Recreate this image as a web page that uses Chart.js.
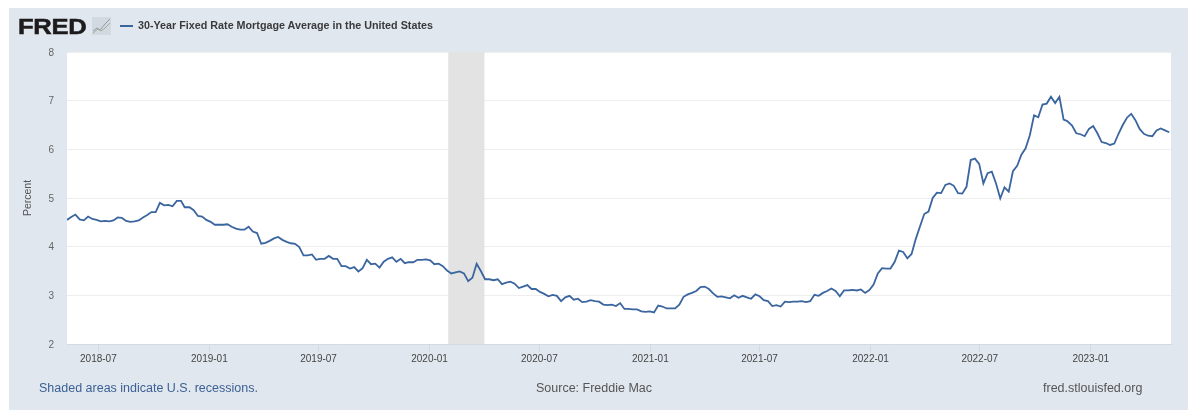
<!DOCTYPE html>
<html><head><meta charset="utf-8">
<script src="https://cdn.jsdelivr.net/npm/chart.js@4/dist/chart.umd.min.js"></script>
<style>
html,body{margin:0;padding:0;background:#fff;width:1200px;height:420px;overflow:hidden;font-family:"Liberation Sans",Arial,sans-serif}
#panel{position:absolute;left:9px;top:8px;width:1179px;height:402px;background:#e1e7ef}
#wrap{position:absolute;left:0;top:0;width:1200px;height:420px}
.t{position:absolute;white-space:nowrap;line-height:1}
#logo{left:18px;top:16px;font-size:22.5px;font-weight:bold;color:#1d1b1b;letter-spacing:-.3px;-webkit-text-stroke:.5px #1d1b1b;transform:scaleX(1.14);transform-origin:left top}
#icon{position:absolute;left:92px;top:17px;width:19px;height:18px}
#sample{position:absolute;left:120px;top:25px;width:13px;height:2px;background:#3a659f}
#title{left:138px;top:20px;font-size:10.75px;font-weight:bold;color:#3a3a3a}
#rec{left:39px;top:382px;font-size:12.5px;color:#3c6194}
#src{left:536px;top:382px;font-size:12.5px;color:#555}
#site{left:1043px;top:382px;font-size:12.5px;color:#555}
</style></head><body>
<div id="panel"></div>
<div id="wrap"><canvas id="c" width="1200" height="420"></canvas></div>
<div class="t" id="logo">FRED</div>
<svg id="icon" viewBox="0 0 19 18"><rect width="19" height="18" fill="#d3d9e1"/><polyline points="1,14 5,11 8,13 13,7 18,2" fill="none" stroke="#8f9aa8" stroke-width="1"/><polyline points="1,16 6,12 9,14 13,11 18,6" fill="none" stroke="#9db08f" stroke-width="1"/></svg>
<div id="sample"></div>
<div class="t" id="title">30-Year Fixed Rate Mortgage Average in the United States</div>
<div class="t" id="rec">Shaded areas indicate U.S. recessions.</div>
<div class="t" id="src">Source: Freddie Mac</div>
<div class="t" id="site">fred.stlouisfed.org</div>
<script>
const dates = [
"2018-05-10","2018-05-17","2018-05-24","2018-05-31","2018-06-07","2018-06-14","2018-06-21","2018-06-28","2018-07-05","2018-07-12","2018-07-19","2018-07-26","2018-08-02","2018-08-09","2018-08-16","2018-08-23","2018-08-30","2018-09-06","2018-09-13","2018-09-20","2018-09-27","2018-10-04","2018-10-11","2018-10-18","2018-10-25","2018-11-01","2018-11-08","2018-11-15","2018-11-21","2018-11-29","2018-12-06","2018-12-13","2018-12-20","2018-12-27",
"2019-01-03","2019-01-10","2019-01-17","2019-01-24","2019-01-31","2019-02-07","2019-02-14","2019-02-21","2019-02-28","2019-03-07","2019-03-14","2019-03-21","2019-03-28","2019-04-04","2019-04-11","2019-04-18","2019-04-25","2019-05-02","2019-05-09","2019-05-16","2019-05-23","2019-05-30","2019-06-06","2019-06-13","2019-06-20","2019-06-27","2019-07-03","2019-07-11","2019-07-18","2019-07-25","2019-08-01","2019-08-08","2019-08-15","2019-08-22","2019-08-29","2019-09-05","2019-09-12","2019-09-19","2019-09-26","2019-10-03","2019-10-10","2019-10-17","2019-10-24","2019-10-31","2019-11-07","2019-11-14","2019-11-21","2019-11-27","2019-12-05","2019-12-12","2019-12-19","2019-12-26",
"2020-01-02","2020-01-09","2020-01-16","2020-01-23","2020-01-30","2020-02-06","2020-02-13","2020-02-20","2020-02-27","2020-03-05","2020-03-12","2020-03-19","2020-03-26","2020-04-02","2020-04-09","2020-04-16","2020-04-23","2020-04-30","2020-05-07","2020-05-14","2020-05-21","2020-05-28","2020-06-04","2020-06-11","2020-06-18","2020-06-25","2020-07-02","2020-07-09","2020-07-16","2020-07-23","2020-07-30","2020-08-06","2020-08-13","2020-08-20","2020-08-27","2020-09-03","2020-09-10","2020-09-17","2020-09-24","2020-10-01","2020-10-08","2020-10-15","2020-10-22","2020-10-29","2020-11-05","2020-11-12","2020-11-19","2020-11-25","2020-12-03","2020-12-10","2020-12-17","2020-12-24","2020-12-31",
"2021-01-07","2021-01-14","2021-01-21","2021-01-28","2021-02-04","2021-02-11","2021-02-18","2021-02-25","2021-03-04","2021-03-11","2021-03-18","2021-03-25","2021-04-01","2021-04-08","2021-04-15","2021-04-22","2021-04-29","2021-05-06","2021-05-13","2021-05-20","2021-05-27","2021-06-03","2021-06-10","2021-06-17","2021-06-24","2021-07-01","2021-07-08","2021-07-15","2021-07-22","2021-07-29","2021-08-05","2021-08-12","2021-08-19","2021-08-26","2021-09-02","2021-09-09","2021-09-16","2021-09-23","2021-09-30","2021-10-07","2021-10-14","2021-10-21","2021-10-28","2021-11-04","2021-11-11","2021-11-18","2021-11-24","2021-12-02","2021-12-09","2021-12-16","2021-12-23","2021-12-30",
"2022-01-06","2022-01-13","2022-01-20","2022-01-27","2022-02-03","2022-02-10","2022-02-17","2022-02-24","2022-03-03","2022-03-10","2022-03-17","2022-03-24","2022-03-31","2022-04-07","2022-04-14","2022-04-21","2022-04-28","2022-05-05","2022-05-12","2022-05-19","2022-05-26","2022-06-02","2022-06-09","2022-06-16","2022-06-23","2022-06-30","2022-07-07","2022-07-14","2022-07-21","2022-07-28","2022-08-04","2022-08-11","2022-08-18","2022-08-25","2022-09-01","2022-09-08","2022-09-15","2022-09-22","2022-09-29","2022-10-06","2022-10-13","2022-10-20","2022-10-27","2022-11-03","2022-11-10","2022-11-17","2022-11-23","2022-12-01","2022-12-08","2022-12-15","2022-12-22","2022-12-29",
"2023-01-05","2023-01-12","2023-01-19","2023-01-26","2023-02-02","2023-02-09","2023-02-16","2023-02-23","2023-03-02","2023-03-09","2023-03-16","2023-03-23","2023-03-30","2023-04-06","2023-04-13","2023-04-20","2023-04-27","2023-05-04","2023-05-11"];
const rates = [
4.55,4.61,4.66,4.56,4.54,4.62,4.57,4.55,4.52,4.53,4.52,4.54,4.60,4.59,4.53,4.51,4.52,4.54,4.60,4.65,4.71,4.71,4.90,4.85,4.86,4.83,4.94,4.94,4.81,4.81,4.75,4.63,4.62,4.55,
4.51,4.45,4.45,4.45,4.46,4.41,4.37,4.35,4.35,4.41,4.31,4.28,4.06,4.08,4.12,4.17,4.20,4.14,4.10,4.07,4.06,3.99,3.82,3.82,3.84,3.73,3.75,3.75,3.81,3.75,3.75,3.60,3.60,3.55,3.58,3.49,3.56,3.73,3.64,3.65,3.57,3.69,3.75,3.78,3.69,3.75,3.66,3.68,3.68,3.73,3.73,3.74,
3.72,3.64,3.65,3.60,3.51,3.45,3.47,3.49,3.45,3.29,3.36,3.65,3.50,3.33,3.33,3.31,3.33,3.23,3.26,3.28,3.24,3.15,3.18,3.21,3.13,3.13,3.07,3.03,2.98,3.01,2.99,2.88,2.96,2.99,2.91,2.93,2.86,2.87,2.90,2.88,2.87,2.81,2.80,2.81,2.78,2.84,2.72,2.72,2.71,2.71,2.67,2.66,2.67,
2.65,2.79,2.77,2.73,2.73,2.73,2.81,2.97,3.02,3.05,3.09,3.17,3.18,3.13,3.04,2.97,2.98,2.96,2.94,3.00,2.95,2.99,2.96,2.93,3.02,2.98,2.90,2.88,2.78,2.80,2.77,2.87,2.86,2.87,2.87,2.88,2.86,2.88,3.01,2.99,3.05,3.09,3.14,3.09,2.98,3.10,3.10,3.11,3.10,3.12,3.05,3.11,
3.22,3.45,3.56,3.55,3.55,3.69,3.92,3.89,3.76,3.85,4.16,4.42,4.67,4.72,5.00,5.11,5.10,5.27,5.30,5.25,5.10,5.09,5.23,5.78,5.81,5.70,5.30,5.51,5.54,5.30,4.99,5.22,5.13,5.55,5.66,5.89,6.02,6.29,6.70,6.66,6.92,6.94,7.08,6.95,7.08,6.61,6.58,6.49,6.33,6.31,6.27,6.42,
6.48,6.33,6.15,6.13,6.09,6.12,6.32,6.50,6.65,6.73,6.60,6.42,6.32,6.28,6.27,6.39,6.43,6.39,6.35];
const xTickLabels = ["2018-07","2019-01","2019-07","2020-01","2020-07","2021-01","2021-07","2022-01","2022-07","2023-01"];
const yTicks = [2,3,4,5,6,7,8];
const recessionStart = "2020-02-01", recessionEnd = "2020-04-01";
const seriesName = "30-Year Fixed Rate Mortgage Average in the United States";
const yTitle = "Percent";

const ms = s => Date.parse(s + "T00:00:00Z");
const tickMs = xTickLabels.map(s => ms(s + "-01"));
const fmt = v => { const d = new Date(v); return d.getUTCFullYear() + "-" + String(d.getUTCMonth() + 1).padStart(2, "0"); };

const recessionBand = {
  id: "recessionBand",
  beforeDatasetsDraw(chart) {
    const { ctx, chartArea: a, scales: { x } } = chart;
    const l = x.getPixelForValue(ms(recessionStart)), r = x.getPixelForValue(ms(recessionEnd));
    ctx.save(); ctx.fillStyle = "#e3e3e3"; ctx.fillRect(l, a.top, r - l, a.bottom - a.top); ctx.restore();
  }
};
const plotBg = {
  id: "plotBg",
  beforeDraw(chart) {
    const { ctx, chartArea: a } = chart;
    ctx.save(); ctx.fillStyle = "#fff"; ctx.fillRect(a.left, a.top, a.right - a.left, a.bottom - a.top); ctx.restore();
    // y tick labels sit about a pixel below their gridlines
    chart.scales.y.getLabelItems().forEach(it => { if (!it._moved) { it.options.translation[1] += 1; it._moved = true; } });
  }
};

new Chart(document.getElementById("c"), {
  type: "line",
  data: { datasets: [{
    label: seriesName,
    data: dates.map((d, i) => ({ x: ms(d), y: rates[i] })),
    borderColor: "#3a659f", borderWidth: 1.8, pointRadius: 0, tension: 0, fill: false
  }] },
  plugins: [plotBg, recessionBand],
  options: {
    responsive: false, animation: false, devicePixelRatio: 1,
    layout: { padding: { left: 22, top: 52, right: 29, bottom: 36 } },
    plugins: { legend: { display: false }, tooltip: { enabled: false } },
    scales: {
      x: {
        type: "linear", min: ms("2018-05-10"), max: ms("2023-05-14"),
        afterBuildTicks(s) { s.ticks = tickMs.map(v => ({ value: v })); },
        afterFit(s) { s.height = 40; },
        ticks: { autoSkip: false, maxRotation: 0, minRotation: 0, padding: 1, color: "#444",
          font: { family: "Liberation Sans", size: 10 }, callback: v => fmt(v) },
        grid: { display: true, drawOnChartArea: false, drawTicks: true, tickLength: 8, color: "#d5dae2" },
        border: { display: true, color: "#d5dae2" }
      },
      y: {
        min: 2, max: 8,
        afterBuildTicks(s) { s.ticks = yTicks.map(v => ({ value: v })); },
        afterFit(s) { s.width = 45; },
        ticks: { padding: 13, color: "#666", font: { family: "Liberation Sans", size: 10 }, callback: v => String(v) },
        grid: { color: "#eeeeee", lineWidth: 1, drawTicks: false },
        border: { display: false },
        title: { display: true, text: yTitle, color: "#555", padding: 0, font: { family: "Liberation Sans", size: 10.5 } }
      }
    }
  }
});
</script>
</body></html>
